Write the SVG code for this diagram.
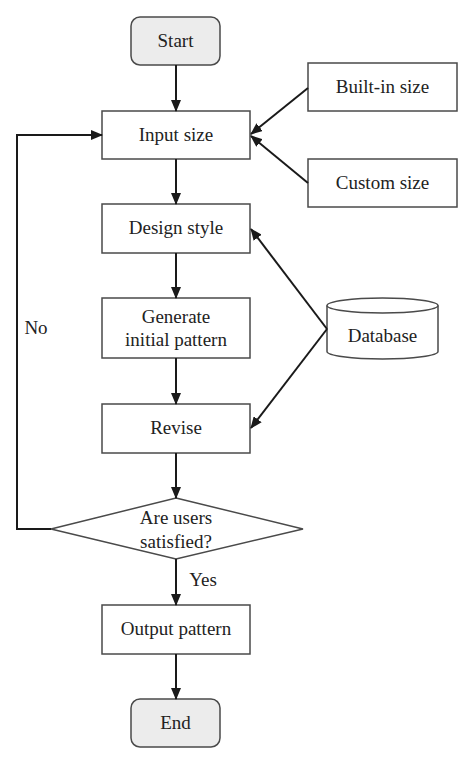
<svg xmlns="http://www.w3.org/2000/svg" width="474" height="765" viewBox="0 0 474 765">
<defs>
<marker id="ah" markerWidth="12" markerHeight="10" refX="11" refY="5" orient="auto" markerUnits="userSpaceOnUse">
<path d="M0,0 L12,5 L0,10 Z" fill="#1a1a1a"/>
</marker>
</defs>
<style>
.box{fill:#fff;stroke:#4a4a4a;stroke-width:1.5}
.term{fill:#ececec;stroke:#4a4a4a;stroke-width:1.5}
.t{font-family:"Liberation Serif","Times New Roman",serif;font-size:19px;fill:#222;text-anchor:middle}
.c{fill:none;stroke:#1a1a1a;stroke-width:2;marker-end:url(#ah)}
.l{fill:none;stroke:#1a1a1a;stroke-width:2}
</style>
<rect width="474" height="765" fill="#fff"/>
<g id="start"><rect class="term" x="131" y="17" width="89" height="48" rx="9"/><text class="t" x="175.5" y="47">Start</text></g>
<g id="input"><rect class="box" x="102" y="111" width="148" height="48"/><text class="t" x="176" y="141">Input size</text></g>
<g id="builtin"><rect class="box" x="308" y="63" width="149" height="48"/><text class="t" x="382.5" y="93">Built-in size</text></g>
<g id="custom"><rect class="box" x="308" y="159" width="149" height="48"/><text class="t" x="382.5" y="189">Custom size</text></g>
<g id="design"><rect class="box" x="102" y="204" width="148" height="49"/><text class="t" x="176" y="234">Design style</text></g>
<g id="generate"><rect class="box" x="102" y="298" width="148" height="60"/><text class="t" x="176" y="323">Generate</text><text class="t" x="176" y="346">initial pattern</text></g>
<g id="database"><path class="box" d="M327,305.5 L327,351.5 A55.5,7.5 0 0 0 438,351.5 L438,305.5"/><ellipse class="box" cx="382.5" cy="305.5" rx="55.5" ry="7.5"/><text class="t" x="382.5" y="342">Database</text></g>
<g id="revise"><rect class="box" x="102" y="404" width="148" height="49"/><text class="t" x="176" y="434">Revise</text></g>
<g id="decision"><polygon class="box" points="176,498 303,529 176,559 51,529"/><text class="t" x="176" y="524">Are users</text><text class="t" x="176" y="548">satisfied?</text></g>
<g id="output"><rect class="box" x="102" y="605" width="148" height="49"/><text class="t" x="176" y="635">Output pattern</text></g>
<g id="end"><rect class="term" x="131" y="699" width="89" height="48" rx="9"/><text class="t" x="175.5" y="729">End</text></g>
<g id="connectors">
<line class="c" x1="176" y1="65" x2="176" y2="111"/>
<line class="c" x1="176" y1="159" x2="176" y2="204"/>
<line class="c" x1="176" y1="253" x2="176" y2="298"/>
<line class="c" x1="176" y1="358" x2="176" y2="404"/>
<line class="c" x1="176" y1="453" x2="176" y2="498"/>
<line class="c" x1="176" y1="559" x2="176" y2="605"/>
<line class="c" x1="176" y1="654" x2="176" y2="699"/>
<line class="c" x1="308" y1="88" x2="251" y2="134"/>
<line class="c" x1="308" y1="183" x2="251" y2="136"/>
<line class="c" x1="327" y1="329" x2="251" y2="229"/>
<line class="c" x1="327" y1="329" x2="251" y2="428"/>
<polyline class="c" points="51,529 17,529 17,135 102,135"/>
<text class="t" x="36" y="334">No</text>
<text class="t" x="203" y="586">Yes</text>
</g>
</svg>
